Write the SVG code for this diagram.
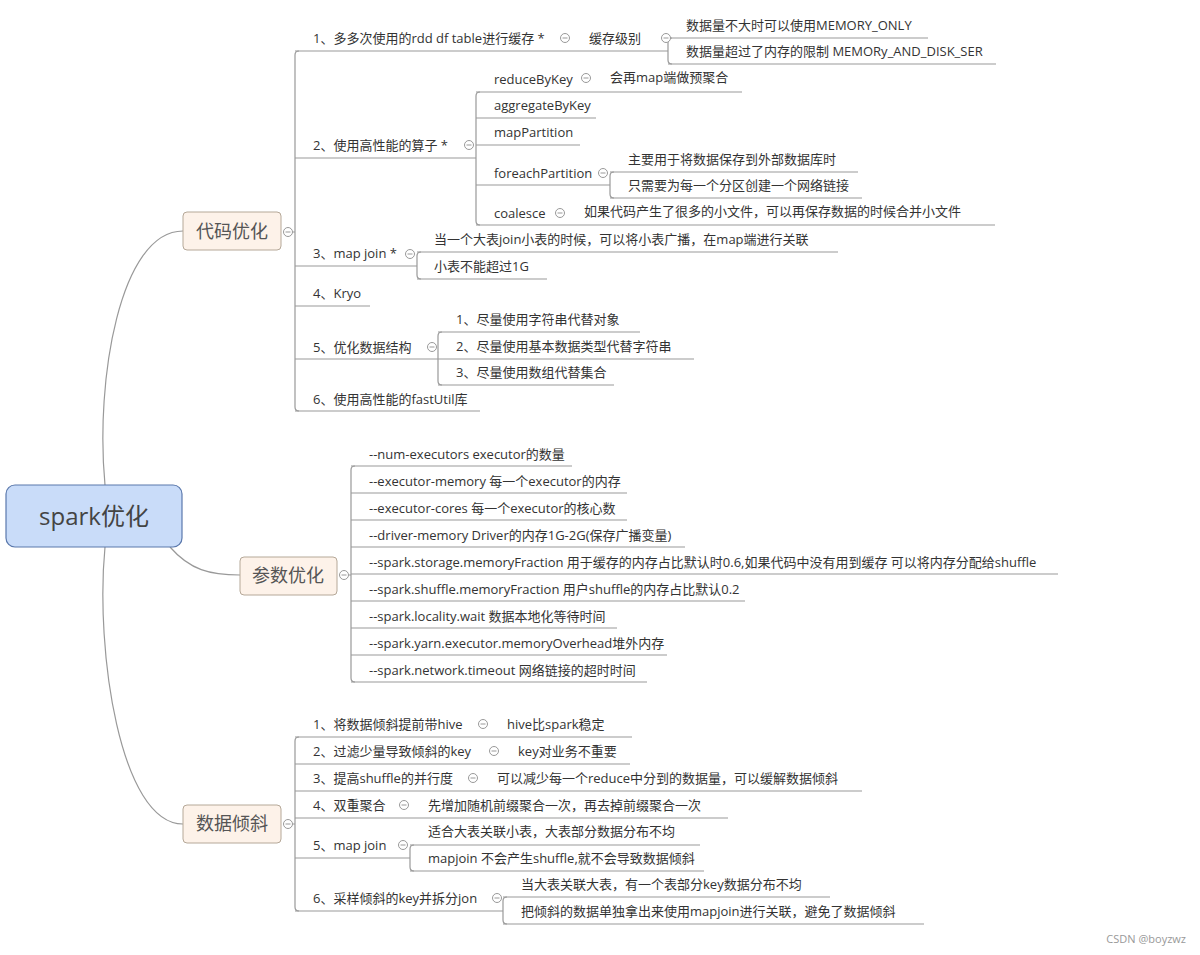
<svg xmlns="http://www.w3.org/2000/svg" width="1200" height="955" viewBox="0 0 1200 955">
<style>
text{font-family:"Open Sans","Noto Sans CJK SC",sans-serif;font-size:13px;fill:#333}
.l{stroke:#999;stroke-width:1.2;fill:none}
.c{fill:#fff;stroke:#999;stroke-width:1}
.m{stroke:#999;stroke-width:1}
.main{fill:#fdf2e9;stroke:#b5a898;stroke-width:1}
.mt{font-size:18px;fill:#555}
</style>
<defs>
<g id="col"><circle class="c" r="4.5"/><line class="m" x1="-2.5" x2="2.5"/></g>
</defs>
<rect width="1200" height="955" fill="#fff"/>
<g id="connectors">
<path class="l" d="M105,485 C95,380 120,231 183,231"/>
<path class="l" d="M105,547 C95,650 120,824 183,824"/>
<path class="l" d="M170,547 C190,570 210,575 240,575"/>
<!-- code branch -->
<path class="l" d="M299,51 Q295,51 295,55 L295,407 Q295,411 299,411"/>
<line class="l" x1="293" y1="232" x2="295" y2="232"/>
<line class="l" x1="295" y1="51" x2="668" y2="51"/>
<path class="l" d="M672,38 Q668,38 668,42 L668,60 Q668,64 672,64"/>
<line class="l" x1="668" y1="38" x2="928" y2="38"/>
<line class="l" x1="668" y1="64" x2="996" y2="64"/>
<line class="l" x1="295" y1="158" x2="476" y2="158"/>
<path class="l" d="M480,92 Q476,92 476,96 L476,221 Q476,225 480,225"/>
<line class="l" x1="476" y1="92" x2="742" y2="92"/>
<line class="l" x1="476" y1="118" x2="596" y2="118"/>
<line class="l" x1="476" y1="145" x2="580" y2="145"/>
<line class="l" x1="476" y1="185" x2="610" y2="185"/>
<path class="l" d="M614,172 Q610,172 610,176 L610,194 Q610,198 614,198"/>
<line class="l" x1="610" y1="172" x2="858" y2="172"/>
<line class="l" x1="610" y1="198" x2="862" y2="198"/>
<line class="l" x1="476" y1="225" x2="995" y2="225"/>
<line class="l" x1="295" y1="266" x2="417" y2="266"/>
<path class="l" d="M421,252 Q417,252 417,256 L417,275 Q417,279 421,279"/>
<line class="l" x1="417" y1="252" x2="838" y2="252"/>
<line class="l" x1="417" y1="279" x2="547" y2="279"/>
<line class="l" x1="295" y1="306" x2="370" y2="306"/>
<line class="l" x1="295" y1="359" x2="438" y2="359"/>
<path class="l" d="M442,332 Q438,332 438,336 L438,381 Q438,385 442,385"/>
<line class="l" x1="438" y1="332" x2="640" y2="332"/>
<line class="l" x1="438" y1="359" x2="694" y2="359"/>
<line class="l" x1="438" y1="385" x2="614" y2="385"/>
<line class="l" x1="295" y1="411" x2="480" y2="411"/>
<!-- param branch -->
<path class="l" d="M355,466 Q351,466 351,470 L351,678 Q351,682 355,682"/>
<line class="l" x1="349" y1="575" x2="351" y2="575"/>
<line class="l" x1="351" y1="466" x2="572" y2="466"/>
<line class="l" x1="351" y1="493" x2="627" y2="493"/>
<line class="l" x1="351" y1="520" x2="627" y2="520"/>
<line class="l" x1="351" y1="547" x2="685" y2="547"/>
<line class="l" x1="351" y1="574" x2="1058" y2="574"/>
<line class="l" x1="351" y1="601" x2="745" y2="601"/>
<line class="l" x1="351" y1="628" x2="617" y2="628"/>
<line class="l" x1="351" y1="655" x2="667" y2="655"/>
<line class="l" x1="351" y1="682" x2="647" y2="682"/>
<!-- skew branch -->
<path class="l" d="M299,737 Q295,737 295,741 L295,907 Q295,911 299,911"/>
<line class="l" x1="293" y1="824" x2="295" y2="824"/>
<line class="l" x1="295" y1="737" x2="632" y2="737"/>
<line class="l" x1="295" y1="764" x2="630" y2="764"/>
<line class="l" x1="295" y1="791" x2="862" y2="791"/>
<line class="l" x1="295" y1="818" x2="728" y2="818"/>
<line class="l" x1="295" y1="858" x2="410" y2="858"/>
<path class="l" d="M414,845 Q410,845 410,849 L410,867 Q410,871 414,871"/>
<line class="l" x1="410" y1="845" x2="700" y2="845"/>
<line class="l" x1="410" y1="871" x2="704" y2="871"/>
<line class="l" x1="295" y1="911" x2="503" y2="911"/>
<path class="l" d="M507,897 Q503,897 503,901 L503,920 Q503,924 507,924"/>
<line class="l" x1="503" y1="897" x2="830" y2="897"/>
<line class="l" x1="503" y1="924" x2="924" y2="924"/>
</g>
<g id="root"><rect x="6" y="485" width="176" height="62" rx="9" fill="#c9dcf9" stroke="#5a78ac" stroke-width="1.2"/><text x="94" y="525" text-anchor="middle" style="font-size:24px;fill:#444">spark优化</text></g>
<g id="code"><rect class="main" x="183" y="212" width="98" height="38" rx="4"/><text class="mt" x="232" y="238" text-anchor="middle">代码优化</text><use href="#col" x="288" y="232"/></g>
<g id="param"><rect class="main" x="240" y="557" width="97" height="38" rx="4"/><text class="mt" x="288" y="582" text-anchor="middle">参数优化</text><use href="#col" x="344" y="575"/></g>
<g id="skew"><rect class="main" x="183" y="805" width="98" height="38" rx="4"/><text class="mt" x="232" y="830" text-anchor="middle">数据倾斜</text><use href="#col" x="288" y="824"/></g>
<g id="c1"><text x="313" y="43">1、多多次使用的rdd df table进行缓存 *</text><use href="#col" x="565" y="38"/></g>
<g id="c1a"><text x="589" y="43">缓存级别</text><use href="#col" x="666" y="38"/></g>
<g id="c1a1"><text x="686" y="30">数据量不大时可以使用MEMORY_ONLY</text></g>
<g id="c1a2"><text x="686" y="56">数据量超过了内存的限制 MEMORy_AND_DISK_SER</text></g>
<g id="c2"><text x="313" y="150">2、使用高性能的算子 *</text><use href="#col" x="469" y="145"/></g>
<g id="c2a"><text x="494" y="84">reduceByKey</text><use href="#col" x="586" y="78"/><text x="610" y="82">会再map端做预聚合</text></g>
<g id="c2b"><text x="494" y="110">aggregateByKey</text></g>
<g id="c2c"><text x="494" y="137">mapPartition</text></g>
<g id="c2d"><text x="494" y="178">foreachPartition</text><use href="#col" x="603" y="173"/></g>
<g id="c2d1"><text x="628" y="164">主要用于将数据保存到外部数据库时</text></g>
<g id="c2d2"><text x="628" y="190">只需要为每一个分区创建一个网络链接</text></g>
<g id="c2e"><text x="494" y="218">coalesce</text><use href="#col" x="560" y="213"/><text x="584" y="216">如果代码产生了很多的小文件，可以再保存数据的时候合并小文件</text></g>
<g id="c3"><text x="313" y="258">3、map join *</text><use href="#col" x="410" y="254"/></g>
<g id="c3a"><text x="434" y="244">当一个大表join小表的时候，可以将小表广播，在map端进行关联</text></g>
<g id="c3b"><text x="434" y="271">小表不能超过1G</text></g>
<g id="c4"><text x="313" y="298">4、Kryo</text></g>
<g id="c5"><text x="313" y="352">5、优化数据结构</text><use href="#col" x="432" y="347"/></g>
<g id="c5a"><text x="456" y="324">1、尽量使用字符串代替对象</text></g>
<g id="c5b"><text x="456" y="351">2、尽量使用基本数据类型代替字符串</text></g>
<g id="c5c"><text x="456" y="377">3、尽量使用数组代替集合</text></g>
<g id="c6"><text x="313" y="404">6、使用高性能的fastUtil库</text></g>
<g id="p1"><text x="369" y="459">--num-executors  executor的数量</text></g>
<g id="p2"><text x="369" y="486">--executor-memory 每一个executor的内存</text></g>
<g id="p3"><text x="369" y="513">--executor-cores  每一个executor的核心数</text></g>
<g id="p4"><text x="369" y="540">--driver-memory   Driver的内存1G-2G(保存广播变量)</text></g>
<g id="p5"><text x="369" y="567">--spark.storage.memoryFraction 用于缓存的内存占比默认时0.6,如果代码中没有用到缓存 可以将内存分配给shuffle</text></g>
<g id="p6"><text x="369" y="594">--spark.shuffle.memoryFraction 用户shuffle的内存占比默认0.2</text></g>
<g id="p7"><text x="369" y="621">--spark.locality.wait 数据本地化等待时间</text></g>
<g id="p8"><text x="369" y="648">--spark.yarn.executor.memoryOverhead堆外内存</text></g>
<g id="p9"><text x="369" y="675">--spark.network.timeout 网络链接的超时时间</text></g>
<g id="s1"><text x="313" y="729">1、将数据倾斜提前带hive</text><use href="#col" x="483" y="724"/><text x="507" y="729">hive比spark稳定</text></g>
<g id="s2"><text x="313" y="756">2、过滤少量导致倾斜的key</text><use href="#col" x="494" y="751"/><text x="518" y="756">key对业务不重要</text></g>
<g id="s3"><text x="313" y="783">3、提高shuffle的并行度</text><use href="#col" x="473" y="778"/><text x="497" y="783">可以减少每一个reduce中分到的数据量，可以缓解数据倾斜</text></g>
<g id="s4"><text x="313" y="810">4、双重聚合</text><use href="#col" x="404" y="805"/><text x="428" y="810">先增加随机前缀聚合一次，再去掉前缀聚合一次</text></g>
<g id="s5"><text x="313" y="850">5、map join</text><use href="#col" x="403" y="845"/></g>
<g id="s5a"><text x="428" y="836">适合大表关联小表，大表部分数据分布不均</text></g>
<g id="s5b"><text x="428" y="863">mapjoin 不会产生shuffle,就不会导致数据倾斜</text></g>
<g id="s6"><text x="313" y="903">6、采样倾斜的key并拆分jon</text><use href="#col" x="497" y="898"/></g>
<g id="s6a"><text x="521" y="889">当大表关联大表，有一个表部分key数据分布不均</text></g>
<g id="s6b"><text x="521" y="916">把倾斜的数据单独拿出来使用mapjoin进行关联，避免了数据倾斜</text></g>
<text x="1186" y="943" text-anchor="end" style="font-size:11px;fill:#999">CSDN @boyzwz</text>
</svg>
